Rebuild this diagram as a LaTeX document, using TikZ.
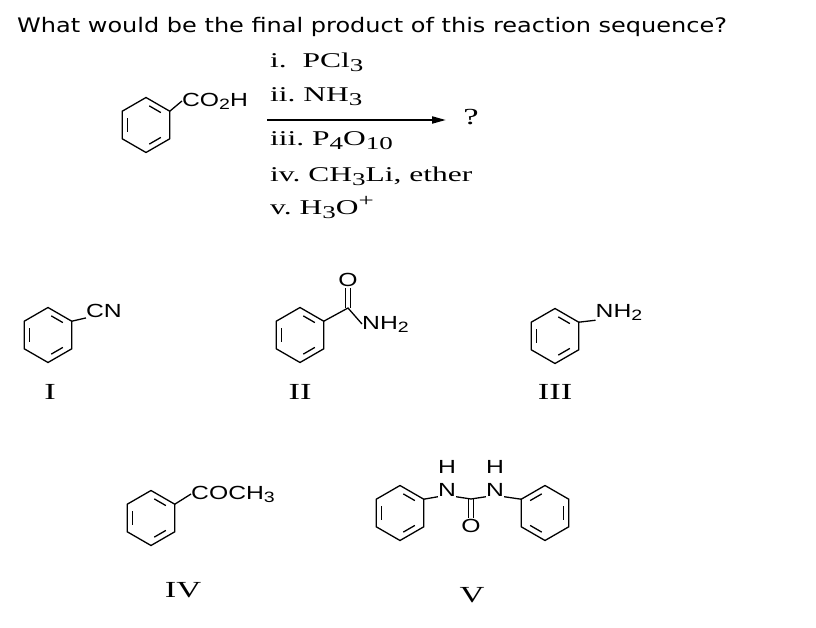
\documentclass[tikz,border=0pt]{standalone}
\usepackage{fontspec}
\setmainfont{Liberation Serif}
\newfontfamily\qfont{DejaVu Sans}
\newfontfamily\chemfont{Liberation Sans}
\usetikzlibrary{calc,arrows.meta}
\newcommand\wrx[1]{\scalebox{1.5}[1]{#1}}
\newcommand\wcx[1]{\scalebox{1.3}[1]{#1}}
\newcommand\rsbx[1]{\raisebox{-4pt}{\fontsize{18}{18}\selectfont #1}}
\newcommand\csbx[1]{\raisebox{-3pt}{\fontsize{15}{15}\selectfont #1}}
\tikzset{
  bond/.style={line width=1.3pt},
  ilab/.style={inner sep=0pt,font=\chemfont\fontsize{19}{19}\selectfont},
  rlab/.style={inner sep=0pt,anchor=west,font=\fontsize{21}{21}\selectfont},
  num/.style={inner sep=0pt,font=\fontsize{23}{23}\selectfont},
  pics/benz/.style={code={
    \draw[bond] (270:27.5)--(330:27.5)--(30:27.5)--(90:27.5)--(150:27.5)--(210:27.5)--cycle;
    \foreach \a/\b in {#1}{
      \draw[bond] ($(\a:21)!0.18!(\b:21)$)--($(\b:21)!0.18!(\a:21)$);}
  }},
}
\begin{document}
\begin{tikzpicture}[x=1pt,y=-1pt]
\useasboundingbox (0,0) rectangle (816,628);
\node[anchor=west,inner sep=0pt,font=\qfont\fontsize{20}{20}\selectfont] (q) at (17,27) {\scalebox{1.2}[1]{What would be the final product of this reaction sequence?}};
% starting material
\pic at (146,125) {benz={270/330,210/150,30/90}};
\coordinate (s1) at (169.8,111.2);
\node[ilab] (co2h) at (215,101) {\wcx{CO\csbx{2}H}};
\draw[bond] (s1) -- (co2h.west);
% reagents
\node[rlab] (r1) at (270,62) {\wrx{i.\, PCl\rsbx{3}}};
\node[rlab] (r2) at (270,97) {\wrx{ii.\ NH\rsbx{3}}};
\coordinate (a1) at (267,120); \coordinate (a2) at (446,120);
\draw[line width=2pt,-{Triangle[length=14pt,width=7pt]}] (a1) -- (a2);
\node[num] (qm) at (471,117) {\wrx{?}};
\node[rlab] (r3) at (270,141) {\wrx{iii.\ P\rsbx{4}O\rsbx{10}}};
\node[rlab] (r4) at (270,176) {\wrx{iv.\ CH\rsbx{3}Li, ether}};
\node[rlab] (r5) at (270,208) {\wrx{v.\ H\rsbx{3}O\raisebox{8pt}{\fontsize{18}{18}\selectfont+}}};
% I
\pic at (48,335) {benz={270/330,210/150,30/90}};
\coordinate (i1) at (71.8,321.2);
\node[ilab] (cn) at (104,311) {\wcx{CN}};
\draw[bond] (i1) -- (cn.south west);
\node[num] (l1) at (50,392) {\wrx{I}};
% II
\pic at (300,335) {benz={270/330,210/150,30/90}};
\coordinate (ii1) at (323.8,321.2);
\coordinate (c2) at (348,308);
\node[ilab] (o2) at (348,280) {\wcx{O}};
\node[ilab,anchor=west] (n2) at (362,324) {\wcx{NH\csbx{2}}};
\draw[bond] (ii1) -- (c2) -- (n2.west);
\draw[bond] ($(c2)+(-2.5,0)$) -- ($(o2.south)+(-2.5,1)$);
\draw[bond] ($(c2)+(2.5,0)$) -- ($(o2.south)+(2.5,1)$);
\node[num] (l2) at (300,392) {\wrx{II}};
% III
\pic at (555,336) {benz={270/330,210/150,30/90}};
\coordinate (iii1) at (578.8,322.2);
\node[ilab] (n3) at (619,312) {\wcx{NH\csbx{2}}};
\draw[bond] (iii1) -- (n3.south west);
\node[num] (l3) at (555,392) {\wrx{III}};
% IV
\pic at (151,518) {benz={270/330,210/150,30/90}};
\coordinate (iv1) at (174.8,504.2);
\node[ilab] (coch3) at (233,494) {\wcx{COCH\csbx{3}}};
\draw[bond] (iv1) -- (coch3.west);
\node[num] (l4) at (183,590) {\wrx{IV}};
% V
\pic at (400,513) {benz={270/330,210/150,30/90}};
\pic at (545,513) {benz={270/210,330/30,150/90}};
\coordinate (v1) at (423.8,499.2);
\coordinate (v2) at (521.2,499.2);
\node[ilab] (nv1) at (447,490) {\wcx{N}};
\node[ilab] (hv1) at (447,467) {\wcx{H}};
\node[ilab] (nv2) at (495,490) {\wcx{N}};
\node[ilab] (hv2) at (495,467) {\wcx{H}};
\coordinate (cv) at (471,499);
\node[ilab] (ov) at (471,526) {\wcx{O}};
\draw[bond] (v1) -- (nv1.south west);
\draw[bond] (nv1.south east) -- (cv) -- (nv2.south west);
\draw[bond] (nv2.south east) -- (v2);
\draw[bond] ($(cv)+(-2.5,0)$) -- ($(ov.north)+(-2.5,-1)$);
\draw[bond] ($(cv)+(2.5,0)$) -- ($(ov.north)+(2.5,-1)$);
\node[num] (l5) at (472,595) {\wrx{V}};
\end{tikzpicture}
\end{document}
